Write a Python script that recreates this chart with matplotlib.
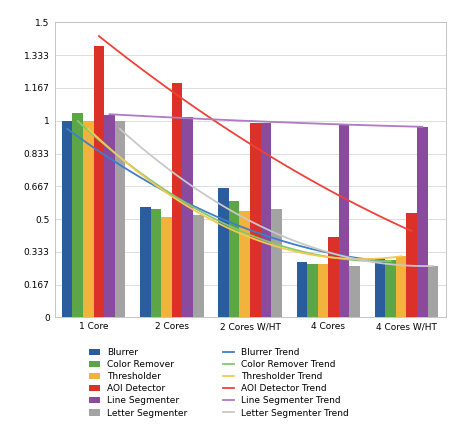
import matplotlib
matplotlib.use("Agg")
import matplotlib.pyplot as plt
import numpy as np

categories = ["1 Core", "2 Cores", "2 Cores W/HT", "4 Cores", "4 Cores W/HT"]
series = ["Blurrer", "Color Remover", "Thresholder", "AOI Detector", "Line Segmenter", "Letter Segmenter"]
blurrer = [1.0, 0.56, 0.66, 0.28, 0.30]
color_remover = [1.04, 0.55, 0.59, 0.27, 0.29]
thresholder = [1.0, 0.51, 0.54, 0.27, 0.31]
aoi = [1.38, 1.19, 0.99, 0.41, 0.53]
line_seg = [1.03, 1.02, 0.99, 0.98, 0.97]
letter_seg = [1.0, 0.52, 0.55, 0.26, 0.26]
yticks = [0, 0.167, 0.333, 0.5, 0.667, 0.833, 1, 1.167, 1.333, 1.5]
ytick_labels = ["0", "0.167", "0.333", "0.5", "0.667", "0.833", "1", "1.167", "1.333", "1.5"]
colors = ["#2b5c9c", "#5da647", "#f2b33d", "#dc3128", "#8a4a9e", "#a3a3a3"]
trend_colors = ["#3d7fc9", "#86c96a", "#f5c755", "#f0403a", "#b07ac4", "#c8c8c8"]

data = [blurrer, color_remover, thresholder, aoi, line_seg, letter_seg]

fig = plt.figure(figsize=(4.74, 4.47), dpi=100)
ax = fig.add_axes([0.115, 0.29, 0.825, 0.66])
x = np.arange(len(categories))
w = 0.135
for i, (vals, c) in enumerate(zip(data, colors)):
    ax.bar(x + (i - 2.5) * w, vals, w, color=c, label=series[i], zorder=2)
for i, (vals, c) in enumerate(zip(data, trend_colors)):
    p = np.polyfit(x, vals, 2)
    xs = np.linspace(x[0] + (i - 2.5) * w, x[-1] + (i - 2.5) * w, 100)
    ax.plot(xs, np.polyval(p, xs - (i - 2.5) * w), color=c, lw=1.3, label=series[i] + " Trend", zorder=3)

ax.set_ylim(0, 1.5)
ax.set_xlim(-0.5, 4.5)
ax.set_yticks(yticks)
ax.set_yticklabels(ytick_labels, fontsize=6.5)
ax.set_xticks(x)
ax.set_xticklabels(categories, fontsize=6.5)
ax.yaxis.grid(True, color="#d8d8d8", lw=0.6, zorder=0)
ax.tick_params(length=0)
for s in ax.spines.values():
    s.set_color("#bbbbbb")
    s.set_linewidth(0.6)

h, l = ax.get_legend_handles_labels()
order = [6, 7, 8, 9, 10, 11, 0, 1, 2, 3, 4, 5]
hh = [h[i] for i in order]
ll = [l[i] for i in order]
fig.legend(hh, ll, loc="upper left", bbox_to_anchor=(0.17, 0.24), ncol=2, fontsize=6.5,
           frameon=False, handlelength=1.2, labelspacing=0.35, columnspacing=4)
fig.savefig("out.png", dpi=100)
